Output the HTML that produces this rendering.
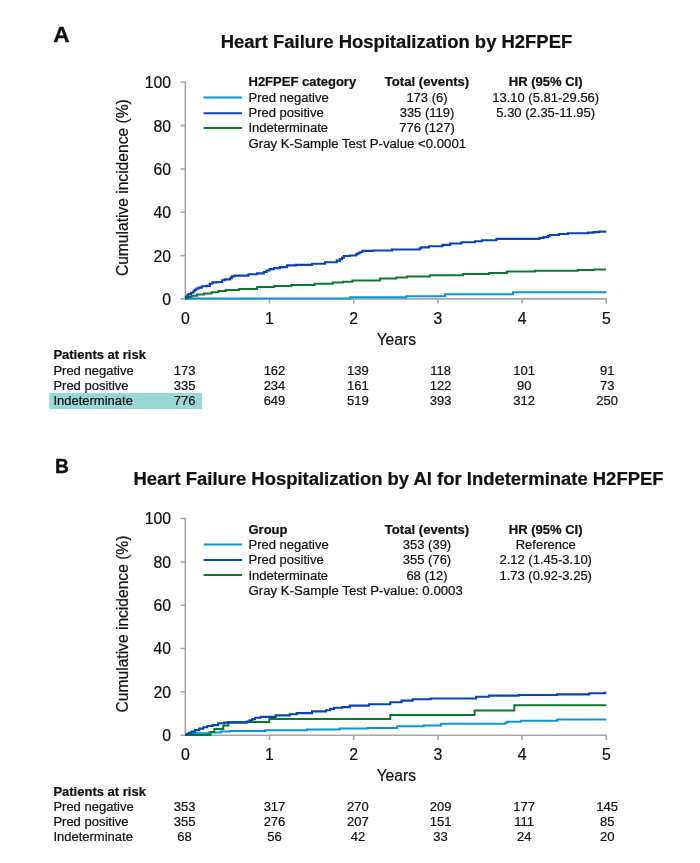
<!DOCTYPE html>
<html><head><meta charset="utf-8">
<style>
html,body{margin:0;padding:0;background:#fff;}
body{width:700px;height:863px;overflow:hidden;}
svg{display:block;will-change:transform;filter:blur(0.3px);}
text{font-family:"Liberation Sans", sans-serif;fill:#111;stroke:#111;stroke-width:0.22px;}
.b{font-weight:bold;}
.ax{stroke:#a6a6a6;stroke-width:1.6;fill:none;}
.c1{stroke:#0a94dc;stroke-width:2;fill:none;stroke-linejoin:miter;}
.c2{stroke:#0844b4;stroke-width:2.1;fill:none;stroke-linejoin:miter;}
.c3{stroke:#0a7a30;stroke-width:2;fill:none;stroke-linejoin:miter;}
.tk{font-size:15.8px;}
.lg{font-size:13px;}
.mid{text-anchor:middle;}
.end{text-anchor:end;}
</style></head>
<body>
<svg width="700" height="863" viewBox="0 0 700 863">
<!-- ================= A ================= -->
<text x="53.3" y="41.7" class="b" style="font-size:22.7px;stroke:#000;stroke-width:0.3px">A</text>
<text x="396.5" y="48.4" class="b mid" style="font-size:18.45px">Heart Failure Hospitalization by H2FPEF</text>

<!-- axes A -->
<path class="ax" d="M180.6,82.2 H185.3 V298.9 H606.3 V303.6 M180.6,125.6 H185.3 M180.6,169 H185.3 M180.6,212.3 H185.3 M180.6,255.6 H185.3 M180.6,298.9 H185.3 M269.5,298.9 V303.6 M353.7,298.9 V303.6 M437.9,298.9 V303.6 M522.1,298.9 V303.6"/>
<g class="tk">
<text x="171" y="88.1" class="end">100</text>
<text x="171" y="131.5" class="end">80</text>
<text x="171" y="174.9" class="end">60</text>
<text x="171" y="218.2" class="end">40</text>
<text x="171" y="261.5" class="end">20</text>
<text x="171" y="304.8" class="end">0</text>
<text x="185.3" y="323.7" class="mid">0</text>
<text x="269.5" y="323.7" class="mid">1</text>
<text x="353.7" y="323.7" class="mid">2</text>
<text x="437.9" y="323.7" class="mid">3</text>
<text x="522.1" y="323.7" class="mid">4</text>
<text x="606.3" y="323.7" class="mid">5</text>
<text x="396.3" y="345" class="mid" style="font-size:15.6px">Years</text>
<text transform="translate(127.6,187.7) rotate(-90)" class="mid" style="font-size:15.6px">Cumulative incidence (%)</text>
</g>

<!-- legend A -->
<path class="c1" d="M203.6,97.6 H242.1" style="stroke-width:2"/>
<path class="c2" d="M203.6,113.3 H242.1" style="stroke-width:2"/>
<path class="c3" d="M203.6,128 H242.1" style="stroke-width:2"/>
<g class="lg">
<text x="248.5" y="86.3" class="b">H2FPEF category</text>
<text x="427" y="86.3" class="b mid" style="font-size:13.15px">Total (events)</text>
<text x="545.7" y="86.3" class="b mid">HR (95% CI)</text>
<text x="248.5" y="101.6">Pred negative</text>
<text x="427" y="101.6" class="mid">173 (6)</text>
<text x="545.7" y="101.6" class="mid">13.10 (5.81-29.56)</text>
<text x="248.5" y="117">Pred positive</text>
<text x="427" y="117" class="mid">335 (119)</text>
<text x="545.7" y="117" class="mid">5.30 (2.35-11.95)</text>
<text x="248.5" y="132.4">Indeterminate</text>
<text x="427" y="132.4" class="mid">776 (127)</text>
<text x="248.5" y="147.8" style="font-size:13.18px">Gray K-Sample Test P-value &lt;0.0001</text>
</g>

<!-- curves A -->
<path class="c1" d="M185.3,298.6 H350 V297.3 H406.4 V296.2 H445 V294.2 H513 V292.3 H606.3"/>
<path class="c3" d="M185.3,298.4 H187.4 V297.0 H191.5 V295.7 H193.6 H197.0 V294.4 H200.4 H204.2 V293.6 H208.1 H211.6 V292.3 H218.4 V291.0 H221.9 H225.8 V290.0 H229.6 H239.1 V288.9 H248.6 H257.1 V287.1 H265.7 H274.3 V286.0 H291.4 V284.9 H300.0 H314.6 V283.8 H329.3 H332.7 V282.6 H336.1 H343.0 V281.7 H349.9 H352.4 V280.5 H355.0 H368.7 H379.9 V278.6 H391.0 H396.2 V277.6 H406.8 V276.5 H412.0 H429.9 V275.2 H447.7 H463.1 V274.0 H478.6 H488.9 V273.1 H499.1 H506.9 V271.4 H514.6 H531.4 H535.0 V270.7 H538.6 H574.3 H577.8 V270.0 H581.4 H593.7 V269.6 H606.0"/>
<path class="c2" d="M185.3,298.2 H186.0 V296.8 H187.3 V295.4 H188.6 V294.0 H189.3 H191.0 V292.7 H192.7 H193.3 V291.2 H194.7 V289.7 H195.3 H196.4 V288.6 H198.5 V287.6 H199.6 H201.8 V286.3 H203.9 H206.4 V285.9 H209.0 H209.8 V283.7 H210.7 H212.4 V282.4 H214.1 H217.6 V282.0 H221.0 H222.1 V280.3 H223.1 H224.6 V279.4 H226.1 H229.6 H230.3 V277.9 H231.8 V276.4 H232.6 H234.5 V275.6 H236.4 H245.0 H248.5 V274.3 H252.0 H257.1 V273.4 H262.3 H263.7 V272.0 H266.6 V270.5 H269.5 V269.1 H270.9 H273.9 V268.1 H279.9 V267.1 H282.9 H287.1 V265.4 H291.4 H295.8 V264.9 H300.1 H312.1 V263.7 H324.1 H325.0 V262.3 H325.9 H335.3 H336.8 V260.6 H339.8 V259.1 H341.3 H342.1 V257.6 H343.9 V256.0 H344.7 H349.9 V255.5 H355.0 H355.9 V254.4 H357.5 V253.4 H358.4 H359.7 V252.2 H362.3 V250.9 H363.6 H373.0 V250.5 H382.4 H391.9 V249.5 H401.3 H418.6 H419.5 V248.4 H421.1 V247.4 H422.0 H428.9 V246.2 H442.5 V244.9 H449.4 H450.2 V243.5 H451.1 H461.4 V242.3 H471.7 H475.1 V241.2 H482.0 V240.2 H485.4 H496.5 V238.9 H507.7 H539.3 H539.6 V237.9 H540.0 H543.5 V237.1 H547.1 H548.0 V236.1 H549.8 V235.0 H550.7 H558.9 V234.0 H567.1 H567.9 V233.3 H568.6 H587.1 H587.9 V232.6 H588.6 H593.6 V232.1 H598.6 H599.0 V231.6 H599.3 H606.3"/>

<!-- at risk A -->
<rect x="49.3" y="392.9" width="152.8" height="16.2" fill="#9ad8d6"/>
<g class="lg">
<text x="53.4" y="359.4" class="b">Patients at risk</text>
<text x="53.4" y="374.6">Pred negative</text>
<text x="53.4" y="390">Pred positive</text>
<text x="53.4" y="405.3">Indeterminate</text>
<g class="mid">
<text x="184.6" y="374.6">173</text><text x="274.5" y="374.6">162</text><text x="357.9" y="374.6">139</text><text x="440.6" y="374.6">118</text><text x="524.2" y="374.6">101</text><text x="607.2" y="374.6">91</text>
<text x="184.6" y="390">335</text><text x="274.5" y="390">234</text><text x="357.9" y="390">161</text><text x="440.6" y="390">122</text><text x="524.2" y="390">90</text><text x="607.2" y="390">73</text>
<text x="184.6" y="405.3">776</text><text x="274.5" y="405.3">649</text><text x="357.9" y="405.3">519</text><text x="440.6" y="405.3">393</text><text x="524.2" y="405.3">312</text><text x="607.2" y="405.3">250</text>
</g>
</g>

<!-- ================= B ================= -->
<text transform="translate(55.1,473.3) scale(0.93,1)" class="b" style="font-size:20.6px;stroke:#000;stroke-width:0.3px">B</text>
<text x="398.5" y="484.5" class="b mid" style="font-size:18.45px">Heart Failure Hospitalization by AI for Indeterminate H2FPEF</text>

<path class="ax" d="M180.6,518.5 H185.3 V735.2 H606.3 V739.9 M180.6,561.9 H185.3 M180.6,605.2 H185.3 M180.6,648.5 H185.3 M180.6,691.8 H185.3 M180.6,735.2 H185.3 M269.5,735.2 V739.9 M353.7,735.2 V739.9 M437.9,735.2 V739.9 M522.1,735.2 V739.9"/>
<g class="tk">
<text x="171" y="524.4" class="end">100</text>
<text x="171" y="567.8" class="end">80</text>
<text x="171" y="611.1" class="end">60</text>
<text x="171" y="654.4" class="end">40</text>
<text x="171" y="697.7" class="end">20</text>
<text x="171" y="741.1" class="end">0</text>
<text x="185.3" y="760" class="mid">0</text>
<text x="269.5" y="760" class="mid">1</text>
<text x="353.7" y="760" class="mid">2</text>
<text x="437.9" y="760" class="mid">3</text>
<text x="522.1" y="760" class="mid">4</text>
<text x="606.3" y="760" class="mid">5</text>
<text x="396.3" y="781.3" class="mid" style="font-size:15.6px">Years</text>
<text transform="translate(127.6,624) rotate(-90)" class="mid" style="font-size:15.6px">Cumulative incidence (%)</text>
</g>

<path class="c1" d="M203.6,544.4 H242.1" style="stroke-width:2"/>
<path class="c2" d="M203.6,560.1 H242.1" style="stroke-width:2"/>
<path class="c3" d="M203.6,575 H242.1" style="stroke-width:2"/>
<g class="lg">
<text x="248.5" y="533.6" class="b">Group</text>
<text x="427" y="533.6" class="b mid" style="font-size:13.15px">Total (events)</text>
<text x="545.7" y="533.6" class="b mid">HR (95% CI)</text>
<text x="248.5" y="548.9">Pred negative</text>
<text x="427" y="548.9" class="mid">353 (39)</text>
<text x="545.7" y="548.9" class="mid">Reference</text>
<text x="248.5" y="564.3">Pred positive</text>
<text x="427" y="564.3" class="mid">355 (76)</text>
<text x="545.7" y="564.3" class="mid">2.12 (1.45-3.10)</text>
<text x="248.5" y="579.7">Indeterminate</text>
<text x="427" y="579.7" class="mid">68 (12)</text>
<text x="545.7" y="579.7" class="mid">1.73 (0.92-3.25)</text>
<text x="248.5" y="595.1" style="font-size:13.22px">Gray K-Sample Test P-value: 0.0003</text>
</g>

<path class="c1" d="M185.3,735.0 H191.2 V733.3 H197.1 H208.7 V732.4 H220.3 H220.7 V731.6 H221.1 H230.6 V731.1 H240.1 H265.0 V730.3 H289.9 H307.0 V729.4 H324.1 H339.6 V728.6 H355.0 H367.9 V728.0 H380.9 H397.1 V726.3 H413.4 H423.7 V725.4 H434.0 H440.9 V723.8 H447.7 H504.6 H505.4 V722.8 H507.1 V721.8 H507.9 H520.8 V720.7 H533.6 H557.2 V719.6 H580.7 H606.3"/>
<path class="c3" d="M185.3,735.1 H210.5 V732 H214.3 V729 H223.3 V725.6 H228.4 V721.9 H269.3 V719.1 H390.3 V715.1 H474.6 V710.6 H514.3 V705.3 H606.3"/>
<path class="c2" d="M185.3,735.0 H186.6 V733.9 H189.1 V732.7 H191.6 V731.6 H192.9 H195.0 V730.1 H199.3 V728.6 H201.4 H203.3 V727.3 H207.2 V726.0 H209.1 H212.6 V725.1 H216.0 H218.2 V723.2 H220.3 H224.2 V722.6 H228.0 H245.3 H246.7 V721.6 H249.5 V720.3 H252.2 V719.1 H255.0 V717.8 H256.4 H260.7 V716.9 H265.0 H275.7 V715.4 H286.4 H289.8 V714.2 H296.7 V713.1 H300.1 H312.1 V711.4 H324.1 H326.1 V710.2 H330.1 V708.9 H334.1 V707.7 H336.1 H342.1 V707.1 H348.2 H349.9 V705.6 H351.6 H367.1 H368.9 V704.3 H370.6 H384.3 H390.3 V702.3 H396.3 H401.5 V700.6 H406.6 H412.6 V699.2 H418.6 H430.6 V698.5 H442.6 H473.6 H476.2 V696.7 H478.9 H489.1 V695.6 H499.3 H518.6 V695.0 H537.9 H557.1 V694.4 H576.4 H589.2 V693.3 H602.1 H604.2 V692.9 H606.3"/>

<g class="lg">
<text x="53.4" y="795.7" class="b">Patients at risk</text>
<text x="53.4" y="810.9">Pred negative</text>
<text x="53.4" y="826.3">Pred positive</text>
<text x="53.4" y="841.4">Indeterminate</text>
<g class="mid">
<text x="184.6" y="810.9">353</text><text x="274.5" y="810.9">317</text><text x="357.9" y="810.9">270</text><text x="440.6" y="810.9">209</text><text x="524.2" y="810.9">177</text><text x="607.2" y="810.9">145</text>
<text x="184.6" y="826.3">355</text><text x="274.5" y="826.3">276</text><text x="357.9" y="826.3">207</text><text x="440.6" y="826.3">151</text><text x="524.2" y="826.3">111</text><text x="607.2" y="826.3">85</text>
<text x="184.6" y="841.4">68</text><text x="274.5" y="841.4">56</text><text x="357.9" y="841.4">42</text><text x="440.6" y="841.4">33</text><text x="524.2" y="841.4">24</text><text x="607.2" y="841.4">20</text>
</g>
</g>
</svg>
</body></html>
